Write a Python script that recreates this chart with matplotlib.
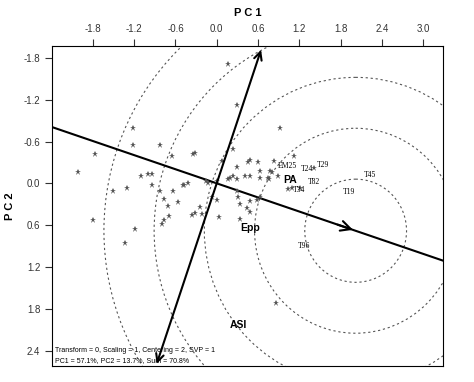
import numpy as np
import matplotlib
matplotlib.use("Agg")
import matplotlib.pyplot as plt
from matplotlib.patches import Circle

# genotype scores (PC1, PC2)
pc1 = [-1.21, -1.22, -1.77, -0.83, -0.35, -0.32, -0.65, 0.29, -2.02, -1.10,
       -1.00, -0.94, -1.31, -1.51, -0.94, -0.83, -0.64, -0.48, -0.42, -0.76,
       -0.71, -0.57, -0.70, -0.76, -0.80, -1.80, -1.19, -1.34, -0.36, -0.31,
       -0.25, -0.22, -0.16, -0.13, -0.07, 0.04, 0.00, 0.07, 0.23, 0.29,
       0.19, 0.23, 0.29, 0.41, 0.48, 0.45, 0.49, 0.60, 0.63, 0.63,
       0.29, 0.31, 0.34, 0.48, 0.44, 0.48, 0.34, 0.58, 0.74, 0.92,
       0.84, 1.13, -0.49, 0.16, 0.76, 0.81, 0.89, 0.00, 0.63, 0.77,
       1.03, 1.09, 1.21, 1.42, 0.16, 0.86]
pc2 = [-0.79, -0.55, -0.42, -0.55, -0.42, -0.43, -0.39, -1.12, -0.16, -0.11,
       -0.13, -0.14, 0.06, 0.11, 0.03, 0.11, 0.11, 0.03, -0.01, 0.22,
       0.32, 0.27, 0.47, 0.53, 0.59, 0.53, 0.66, 0.86, 0.46, 0.42,
       0.34, 0.44, -0.03, -0.01, 0.19, 0.49, -0.03, -0.32, -0.49, -0.24,
       -0.07, -0.11, -0.06, -0.10, -0.10, -0.30, -0.33, -0.30, -0.17, -0.07,
       0.11, 0.20, 0.29, 0.26, 0.35, 0.41, 0.51, 0.24, -0.07, -0.79,
       -0.32, -0.39, 0.02, -0.06, -0.06, -0.16, -0.10, 0.24, 0.19, -0.17,
       0.08, 0.07, 0.06, -0.22, -1.71, 1.71]

# labelled entries
lab_names = ["EM25", "T24", "T29", "T34", "T82", "T45", "T19", "T96"]
lab_x = [1.03, 1.31, 1.55, 1.19, 1.42, 2.23, 1.93, 1.27]
lab_y = [-0.25, -0.20, -0.26, 0.09, -0.02, -0.12, 0.13, 0.90]
bold_names = ["PA", "Epp", "ASI"]
bold_x = [1.06, 0.48, 0.32]
bold_y = [-0.05, 0.64, 2.03]

# average environment axis / ideal point
aec_slope = 0.337
ideal = (2.02, 0.68)
radii = [0.74, 1.47, 2.20, 2.93, 3.66]
atc_top = (0.645, -1.915)
atc_bot = (-0.873, 2.59)

xticks = [-1.8, -1.2, -0.6, 0.0, 0.6, 1.2, 1.8, 2.4, 3.0]
yticks = [-1.8, -1.2, -0.6, 0.0, 0.6, 1.2, 1.8, 2.4]

fig = plt.figure(figsize=(4.74, 3.82), dpi=100)
ax = fig.add_axes([0.1097, 0.0419, 0.8249, 0.8377])
ax.set_xlim(-2.395, 3.29)
ax.set_ylim(2.62, -1.97)

for r in radii:
    ax.add_patch(Circle(ideal, r, fill=False, ls=(0, (2, 2.5)), lw=0.8,
                        color="#555555"))

xs = np.array([-2.395, 3.29])
ax.plot(xs, aec_slope * xs, color="black", lw=1.5)
ax.annotate("", xy=ideal, xytext=(ideal[0] - 0.3, aec_slope * (ideal[0] - 0.3)),
            arrowprops=dict(arrowstyle="->", lw=1.5, color="black",
                            mutation_scale=18))
for end in [atc_top, atc_bot]:
    ax.annotate("", xy=end, xytext=(0, 0),
                arrowprops=dict(arrowstyle="->", lw=1.5, color="black",
                                mutation_scale=14, shrinkA=0, shrinkB=0))

ax.plot(pc1, pc2, "*", ms=4.5, color="#555555", mew=0)

for n, x, y in zip(lab_names, lab_x, lab_y):
    ax.text(x, y, n, fontsize=5.5, ha="center", va="center",
            family="Liberation Serif")
for n, x, y in zip(bold_names, bold_x, bold_y):
    ax.text(x, y, n, fontsize=7.5, fontweight="bold", ha="center",
            va="center", family="Liberation Sans")

ax.text(0.008, 0.047, "Transform = 0, Scaling = 1, Centering = 2, SVP = 1",
        transform=ax.transAxes, fontsize=5, family="Liberation Sans",
        va="center")
ax.text(0.008, 0.016, "PC1 = 57.1%, PC2 = 13.7%, Sum = 70.8%",
        transform=ax.transAxes, fontsize=5, family="Liberation Sans",
        va="center")

ax.xaxis.tick_top()
ax.xaxis.set_label_position("top")
ax.set_xticks(xticks)
ax.set_yticks(yticks)
ax.set_xticklabels(["%.1f" % v for v in xticks])
ax.set_yticklabels(["%.1f" % v for v in yticks])
ax.tick_params(labelsize=7, colors="#333333", length=5, width=0.8,
               labelfontfamily="Liberation Sans")
ax.set_xlabel("P C 1", fontsize=8, fontweight="bold", labelpad=6,
              family="Liberation Sans")
ax.set_ylabel("P C 2", fontsize=8, fontweight="bold", labelpad=6,
              family="Liberation Sans")
for s in ax.spines.values():
    s.set_linewidth(0.8)

fig.savefig("out.png", dpi=100)
